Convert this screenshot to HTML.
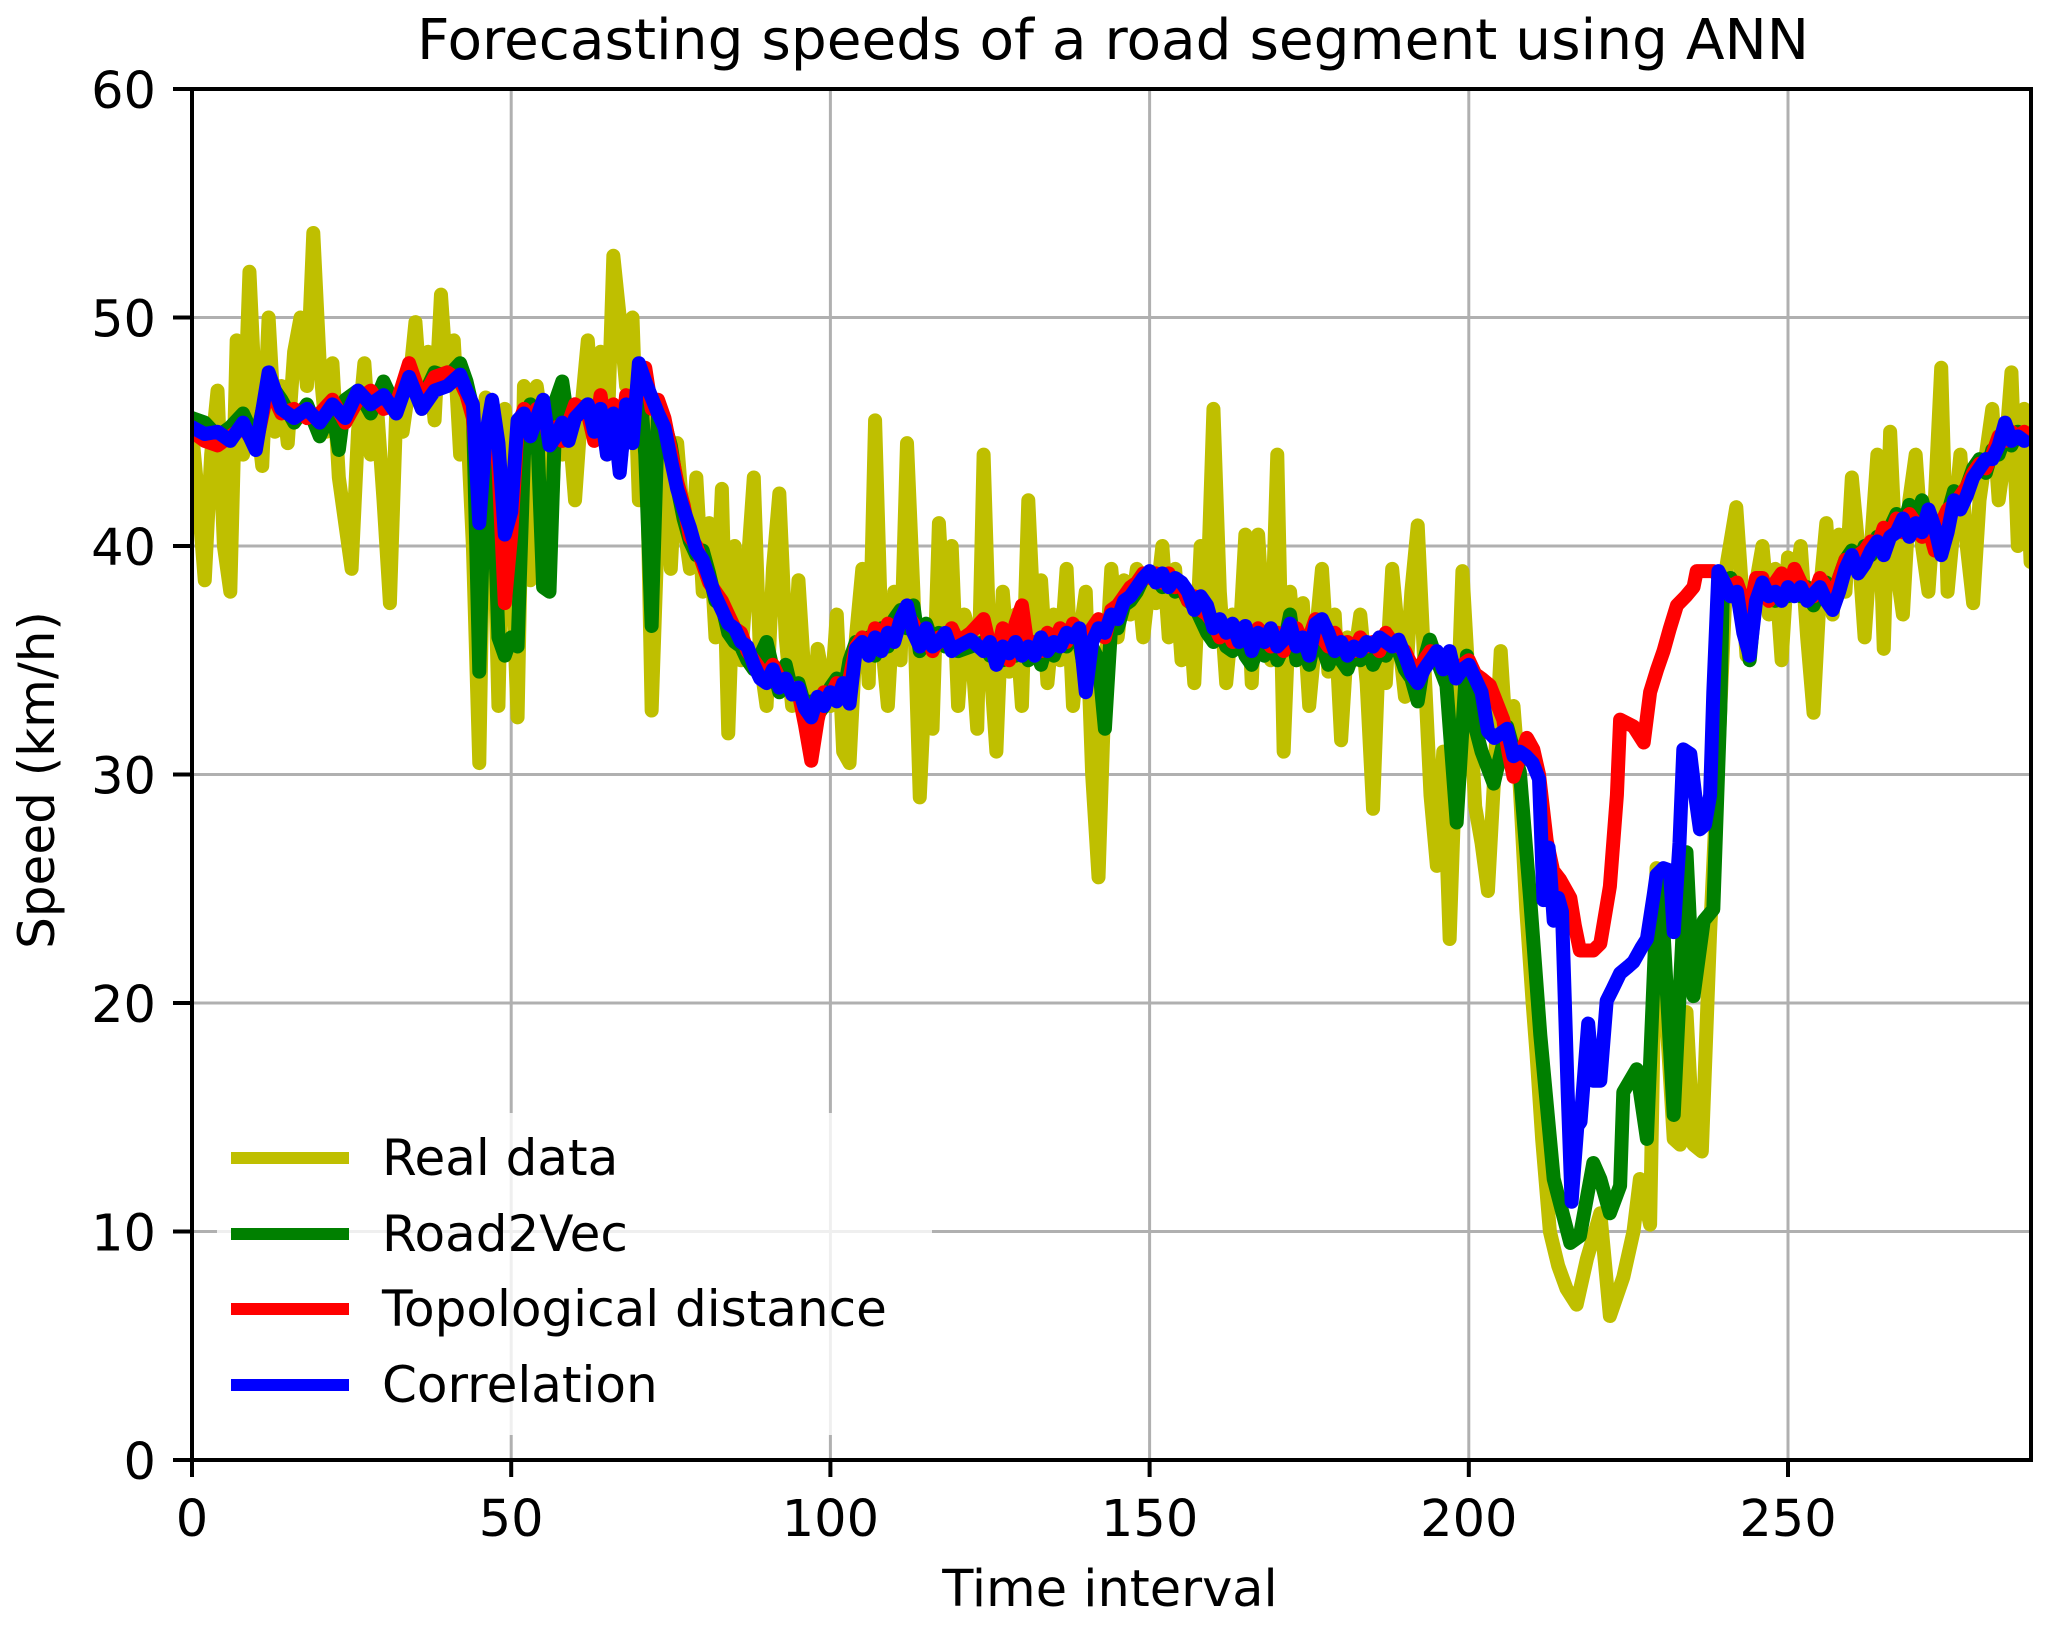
<!DOCTYPE html>
<html><head><meta charset="utf-8"><style>
html,body{margin:0;padding:0;background:#fff;}
svg{display:block;}
text{font-family:"DejaVu Sans","Liberation Sans",sans-serif;fill:#000;}
.d{fill:none;stroke-linejoin:round;stroke-linecap:round;stroke-width:14;vector-effect:non-scaling-stroke;}
</style></head><body>
<svg width="2048" height="1625" viewBox="0 0 2048 1625" xmlns="http://www.w3.org/2000/svg">
<rect x="0" y="0" width="2048" height="1625" fill="#fff"/>
<defs><clipPath id="ax"><rect x="192" y="89" width="1839" height="1371"/></clipPath></defs>
<g stroke="#b0b0b0" stroke-width="3">
<line x1="511.2" y1="89" x2="511.2" y2="1460"/>
<line x1="830.4" y1="89" x2="830.4" y2="1460"/>
<line x1="1149.6" y1="89" x2="1149.6" y2="1460"/>
<line x1="1468.8" y1="89" x2="1468.8" y2="1460"/>
<line x1="1788" y1="89" x2="1788" y2="1460"/>
<line x1="192" y1="1231.5" x2="2031" y2="1231.5"/>
<line x1="192" y1="1003" x2="2031" y2="1003"/>
<line x1="192" y1="774.5" x2="2031" y2="774.5"/>
<line x1="192" y1="546" x2="2031" y2="546"/>
<line x1="192" y1="317.5" x2="2031" y2="317.5"/>
</g>
<g clip-path="url(#ax)">
<g transform="translate(192,1460) scale(6.384,-22.85)">
<polyline class="d" stroke="#bfbf00" points="0,45 1,42 2,38.5 3,44 4,46.8 5,40 6,38 7,49 8,44 9,52 10,46 11,43.5 12,50 13,45 14,47 15,44.5 16,48.5 17,50 18,47 19,53.7 20,48 21,45 22,48 23,43 24,41 25,39 26,45 27,48 28,44 29,46 30,42 31,37.5 32,46 33,45 34,47 35,49.8 36,46 37,48.5 38,45.5 39,51 40,47 41,49 42,44 43,46 44,40 45,30.5 46,46.5 47,44 48,33 49,46 50,40 51,32.5 52,47 53,38.5 54,47 55,45 56,39 57,46 58,44 59,45.5 60,42 61,46 62,49 63,45 64,48.5 65,44 66,52.7 67,50 68,47 69,50 70,42 71,47 72,32.8 73,41 74,45 75,39 76,44.5 77,41 78,39 79,43 80,38 81,41 82,36 83,42.5 84,31.8 85,40 86,35 87,39 88,43 89,35 90,33 91,39 92,42.3 93,36 94,33 95,38.5 96,34 97,31 98,35.5 99,34 100,33 101,37 102,31 103,30.5 104,36 105,39 106,34 107,45.5 108,36 109,33 110,38 111,35 112,44.5 113,38 114,29 115,35 116,32 117,41 118,36 119,40 120,33 121,37 122,36 123,32 124,44 125,35 126,31 127,38 128,34.5 129,37 130,33 131,42 132,36 133,38.5 134,34 135,37 136,35 137,39 138,33 139,36 140,38 141,30 142,25.5 143,34 144,39 145,36 146,38.5 147,37 148,39 149,36 150,38.5 151,37.5 152,40 153,36 154,39 155,35 156,38 157,34 158,40 159,37.5 160,46 161,38 162,34 163,37 164,35.5 165,40.5 166,34 167,40.5 168,36 169,35 170,44 171,31 172,38 173,35 174,37.5 175,33 176,36 177,39 178,34.5 179,37 180,31.5 181,36 182,35 183,37 184,34 185,28.5 186,36 187,34 188,39 189,36 190,33.4 191,38 192,40.9 193,35 194,29.1 195,26 196,31 197,22.8 198,31 199,38.9 200,34 201,28.6 202,27 203,24.9 204,30 205,35.4 206,31 207,33 208,29.4 209,24.1 210,20 210.6,17.8 211.5,14 212.7,10 214,8.5 215.3,7.5 216.9,6.8 218.5,8.8 220.6,10.8 222.1,6.3 224.2,8 225.8,10 226.8,12.3 228.4,10.3 229.4,25.9 231,19.1 232.1,14.05 233.1,13.8 234.1,19.6 235.2,13.8 236.5,13.5 237.8,23.1 238.8,29.1 240.4,39.2 241.9,41.7 243.5,35.2 245,38.4 246,40 247,37 248,39 249,35 250,39.5 251,38 252,40 253,36 254,32.7 255,38 256,41 257,37 258,40.5 259,38 260,43 261,40 262,36 263,40 264,44 265,35.5 266,45 267,39 268,37 269,42 270,44 271,40 272,38 273,42 274,47.8 275,38 276,41 277,44 278,40 279,37.5 280,42 281,44 282,46 283,42 284,44 285,47.6 286,40 287,46 288,39.3"/>
<polyline class="d" stroke="#008000" points="0,45.6 2,45.4 4,44.8 6,45.2 8,45.8 10,44.6 12,47.2 14,46.4 16,45.4 18,46.2 20,44.8 22,46 23,44.2 24,46.4 26,46.8 28,45.8 30,47.2 32,46 34,47.4 36,46.4 38,47.6 40,47.4 42,48 43,47.2 44,46 45,34.5 46,45 47,44 48,36 49,35.2 50,36 51,35.6 52,44 53,46.2 54,45.6 55,38.2 56,38 57,46.4 58,47.2 59,45.2 60,45.8 62,46.2 63,45 64,45.6 65,44.4 66,45.6 67,43.4 68,46 69,45.2 70,47.6 71,44 72,36.5 73,45.8 74,45.4 75,44.4 76,42.6 77,41.2 78,40.2 79,39.6 80,39.8 81,38.8 82,37.6 83,37.4 84,36.2 85,35.8 86,35.6 87,35 88,34.6 89,35.2 90,35.8 91,34.6 92,33.6 93,34.8 94,33.6 95,34 96,33 97,33.2 98,32.6 99,33 100,33.8 101,34.2 102,33.4 103,35 104,35.8 105,35.6 106,36 107,35.2 108,36.4 109,35.6 110,36.8 111,37.2 112,36.4 113,37.4 114,35.4 115,36.6 116,35.8 117,36.2 118,35.6 119,36 120,35.4 122,35.6 124,35.8 125,35.2 126,35.6 127,35 128,35.8 129,35.2 130,35.6 131,35 132,35.6 133,34.8 134,35.8 135,35.2 136,36 137,35.6 138,36.4 139,35.8 140,34.2 141,35.6 142,35 143,32 144,36.6 145,36.4 146,37.4 147,37.6 148,38 149,38.6 150,38.8 151,38.6 152,38.2 153,38.6 154,38 155,38.2 156,37.6 157,37.4 158,36.8 159,36.2 160,35.8 161,36.4 162,35.6 163,35.4 164,36 165,35.2 166,34.8 167,35.6 168,35.2 169,36.2 170,35 171,35.6 172,37 173,35 174,35.6 175,34.8 176,36.2 177,35.6 178,34.8 179,35.4 180,35 181,34.6 182,35.4 183,35 184,35.6 185,34.8 186,35.4 187,35.2 188,35.8 189,35.4 190,34.6 191,34.2 192,33.2 193,35 193.9,35.9 195,35 196.5,33.9 198.1,27.9 199.7,35.2 200.7,32.4 202,31 203.9,29.6 206,32.1 208,30.1 209.6,24.6 211.2,18.6 213.3,12.3 215.9,9.5 217.4,9.8 219.5,13 220.6,12.3 222.1,10.8 223.7,12 224.2,16.1 226.3,17.1 227.9,14.05 229.4,24.1 230,25.6 232.1,15.1 234.1,26.6 235.2,20.3 236.8,23.6 238.3,24.1 239.4,32.9 239.8,38.2 241,38.6 242,37.8 243,37.2 244,35 245,38 246,38.4 247,38 248,37.6 249,38.2 250,37.8 251,38.4 252,37.8 253,38.2 254,37.4 255,38 256,38.4 257,37.8 258,38.6 259,39.4 260,39.8 261,39.2 262,40 263,39.6 264,40.4 265,40 266,40.8 267,41.4 268,40.8 269,41.8 270,41.2 271,42 272,41 273,40.6 274,40.2 275,41.4 276,42.4 277,42 278,42.6 279,43.4 280,43.8 281,43.2 282,44.2 283,44 284,44.8 285,44.4 286,45 287,44.8"/>
<polyline class="d" stroke="#ff0000" points="0,45 2,44.6 4,44.4 6,44.8 8,45.2 10,44.4 12,47 14,45.8 16,46 18,45.6 20,45.8 22,46.4 24,45.4 26,46.4 28,46.8 30,46 32,46.2 34,48 36,46.4 38,47.4 40,47.6 42,47.2 43,46.6 44,45.6 45,42 46,44.5 47,45.8 48,43.5 49,37.5 50,40.5 51,45.2 52,46 53,45 54,46 55,45.8 56,44.6 57,45.2 58,44.6 59,45.4 60,46.2 62,45.8 63,44.6 64,46.6 65,44.6 66,46.2 67,44 68,46.6 69,45 70,47.6 71,47.8 72,46 73,46.4 74,45.6 75,44.2 76,42.8 77,41.8 78,40.4 79,40 80,39.2 81,38.4 82,38 83,37.6 84,37 85,36.4 86,36.2 87,35.4 88,35 89,34.6 90,34.4 91,34.8 92,34.2 93,34 94,33.8 95,33.6 96,32.2 97,30.6 98,32.4 99,33.6 100,33.4 101,34 102,33.6 103,34.2 104,35.6 105,36 106,35.4 107,36.4 108,35.8 109,36.6 110,36 111,36.8 112,37 113,36.6 114,35.8 115,36.2 116,35.4 117,36 118,35.8 119,36.4 120,35.8 122,36.2 124,36.8 125,35.6 126,35.2 127,36.4 128,35 129,36.6 130,37.4 131,35.4 132,35.8 133,35.4 134,36.2 135,35.8 136,36.4 137,35.8 138,36.6 139,36.2 140,35.4 141,36.4 142,36.8 143,36 144,37.2 145,37.4 146,37.8 147,38.2 148,38.4 149,38.8 150,38.6 151,38.8 152,38.4 153,38.8 154,38.2 155,38.4 156,37.6 157,37.8 158,37.2 159,37 160,36.6 161,36 162,36.4 163,35.8 164,36.4 165,36 166,35.6 167,36.4 168,36 169,35.6 170,36.2 171,35.4 172,36.2 173,36.4 174,35.8 175,36 176,36.8 177,36 178,35.6 179,36.2 180,35.6 181,35.8 182,35.4 183,36 184,35.6 185,35.8 186,35.4 187,36.2 188,35.8 189,35.6 190,35.4 191,34.8 192,34.6 193,35 194,35.4 195,35.2 196,34.8 197,35 198,34.6 199,34.8 200,35 201,34.4 202,34.2 203.3,33.9 204,33.4 205.4,32.4 206.2,31 207,29.9 208,30.8 209.1,31.6 210.1,31.1 211,30 212.2,27.1 213.2,25.8 214.3,25.4 215.9,24.6 216.6,23.4 217.4,22.3 219.5,22.3 220.6,22.6 222.1,25.1 223.2,29.1 223.7,32.4 225.8,32.1 227.4,31.4 228.4,33.6 229.5,34.6 230.5,35.4 231.5,36.4 232.6,37.4 234,37.8 235.2,38.2 235.7,38.9 238.3,38.9 240.9,38.2 242,38.4 243,37.6 244,37.2 245,38.6 246,38.6 247,37.6 248,38.4 249,38.8 250,38 251,39 252,38.4 253,38 254,37.8 255,38.6 256,38.2 257,37.6 258,38.6 259,39.4 260,39.2 261,39.6 262,39.8 263,40.2 264,40 265,40.8 266,40.4 267,41.2 268,40.6 269,41.4 270,41 271,40.4 272,40.8 273,39.8 274,41 275,41.6 276,41.8 277,42.2 278,42.6 279,43.2 280,43.6 281,43.4 282,44 283,44.8 284,44.6 285,45 286,44.8 287,45"/>
<polyline class="d" stroke="#0000ff" points="0,45.2 2,44.9 4,45 6,44.6 8,45.4 10,44.2 12,47.6 14,46 16,45.6 18,46 20,45.4 22,46.2 24,45.6 26,46.8 28,46.2 30,46.6 32,45.8 34,47.4 36,46 38,46.8 40,47 42,47.5 43,46.8 44,46.2 45,41 46,44.8 47,46.4 48,44.5 49,40.5 50,41.5 51,45.5 52,45.8 53,44.8 54,45.6 55,46.4 56,44.4 57,44.8 58,45.4 59,44.6 60,45.6 62,46.2 63,45 64,46 65,44 66,45.8 67,43.2 68,46.2 69,44.5 70,48 71,47.2 72,46.5 73,45.8 74,45.2 75,43.8 76,42.5 77,41.6 78,40.8 79,39.8 80,39.4 81,38.6 82,37.8 83,37.2 84,36.6 85,36.4 86,35.8 87,35.6 88,34.8 89,34.2 90,34 91,34.6 92,33.8 93,34.2 94,33.5 95,33.8 96,32.9 97,32.5 98,33.4 99,33 100,33.6 101,33.2 102,34 103,33.1 104,35.5 105,35.8 106,35.2 107,36 108,35.4 109,36.2 110,35.8 111,36.8 112,37.4 113,36.2 114,35.6 115,36.4 116,35.6 117,35.8 118,36.2 119,35.4 120,35.6 122,35.9 124,35.4 125,35.8 126,34.8 127,35.6 128,35.3 129,35.8 130,35.2 131,35.6 132,35.2 133,36 134,35.4 135,35.8 136,35.6 137,36.2 138,36 139,36.4 140,33.6 141,35.8 142,36.4 143,36.2 144,37 145,36.8 146,37.6 147,37.8 148,38.2 149,38.6 150,38.9 151,38.4 152,38.8 153,38.2 154,38.6 155,38.4 156,38 157,37.2 158,37.8 159,37.4 160,36.4 161,36.8 162,36.2 163,36.6 164,35.8 165,36.5 166,35.4 167,36.2 168,35.8 169,36.4 170,35.6 171,35.9 172,36.6 173,35.6 174,36 175,35.2 176,36.6 177,36.8 178,36.2 179,35.4 180,35.8 181,35.2 182,35.6 183,35.4 184,35.8 185,35.6 186,36 187,35.8 188,35.6 189,35.9 190,35.2 191,34.4 192,34 193,34.6 194,35 195,35.4 196,34.6 197,35.4 198,34.2 199,34.6 200,34.8 201,34.2 202,33.6 203,31.9 204,31.6 205,31.8 206,32 207,30.8 208,31 209,30.8 210,30.5 211,29.8 211.7,24.5 212.5,26.8 213.3,23.6 214,24.6 214.6,24 215.5,16 216.1,11.3 217,14.6 217.5,14.8 218.7,19.1 219.5,16.6 220.6,16.6 221.6,20.1 222.5,20.6 223.7,21.3 225,21.6 225.8,21.8 227,22.4 227.9,22.8 229,24.8 229.4,25.6 230.5,25.9 231.5,25.8 232.1,23.1 233,27 233.6,31.1 234.7,30.9 235.5,29 236.2,27.6 237,27.8 237.8,29.1 238.3,33.6 239.1,38.9 240,38.4 241,37.8 242,38 243,36.2 244,35.2 245,37.6 246,38.4 247,37.8 248,38 249,37.6 250,38.2 251,37.8 252,38.2 253,37.6 254,37.9 255,38.2 256,37.6 257,37.2 258,38 259,39 260,39.6 261,38.8 262,39.2 263,39.8 264,40.2 265,39.6 266,40.4 267,40.6 268,41.2 269,40.4 270,41 271,40.6 272,41.6 273,40.8 274,39.6 275,40.6 276,42 277,41.6 278,42.2 279,43 280,43.4 281,43.8 282,43.8 283,44.4 284,45.4 285,44.6 286,44.8 287,44.6"/>
</g>
</g>
<!-- legend -->
<rect x="217" y="1113" width="715" height="322" fill="#fff" fill-opacity="0.8"/>
<g stroke-width="12" stroke-linecap="butt">
<line x1="231" y1="1158" x2="349" y2="1158" stroke="#bfbf00"/>
<line x1="231" y1="1234" x2="349" y2="1234" stroke="#008000"/>
<line x1="231" y1="1309" x2="349" y2="1309" stroke="#ff0000"/>
<line x1="231" y1="1385" x2="349" y2="1385" stroke="#0000ff"/>
</g>
<g font-size="50">
<text x="382" y="1175">Real data</text>
<text x="382" y="1251">Road2Vec</text>
<text x="382" y="1326">Topological distance</text>
<text x="382" y="1402">Correlation</text>
</g>
<!-- spines -->
<rect x="192" y="89" width="1839" height="1371" fill="none" stroke="#000" stroke-width="4"/>
<!-- ticks -->
<g stroke="#000" stroke-width="4">
<line x1="173" y1="1460" x2="192" y2="1460"/>
<line x1="173" y1="1231.5" x2="192" y2="1231.5"/>
<line x1="173" y1="1003" x2="192" y2="1003"/>
<line x1="173" y1="774.5" x2="192" y2="774.5"/>
<line x1="173" y1="546" x2="192" y2="546"/>
<line x1="173" y1="317.5" x2="192" y2="317.5"/>
<line x1="173" y1="89" x2="192" y2="89"/>
<line x1="192" y1="1460" x2="192" y2="1477"/>
<line x1="511.2" y1="1460" x2="511.2" y2="1477"/>
<line x1="830.4" y1="1460" x2="830.4" y2="1477"/>
<line x1="1149.6" y1="1460" x2="1149.6" y2="1477"/>
<line x1="1468.8" y1="1460" x2="1468.8" y2="1477"/>
<line x1="1788" y1="1460" x2="1788" y2="1477"/>
</g>
<g font-size="51" text-anchor="end">
<text x="156" y="1479">0</text>
<text x="156" y="1250.5">10</text>
<text x="156" y="1022">20</text>
<text x="156" y="793.5">30</text>
<text x="156" y="565">40</text>
<text x="156" y="336.5">50</text>
<text x="156" y="108">60</text>
</g>
<g font-size="51" text-anchor="middle">
<text x="192" y="1536">0</text>
<text x="511.2" y="1536">50</text>
<text x="830.4" y="1536">100</text>
<text x="1149.6" y="1536">150</text>
<text x="1468.8" y="1536">200</text>
<text x="1788" y="1536">250</text>
</g>
<text x="1110" y="1606" font-size="51" text-anchor="middle">Time interval</text>
<text transform="translate(54,780) rotate(-90)" font-size="50" text-anchor="middle">Speed (km/h)</text>
<text x="1113" y="59" font-size="56.5" text-anchor="middle">Forecasting speeds of a road segment using ANN</text>
</svg>
</body></html>
